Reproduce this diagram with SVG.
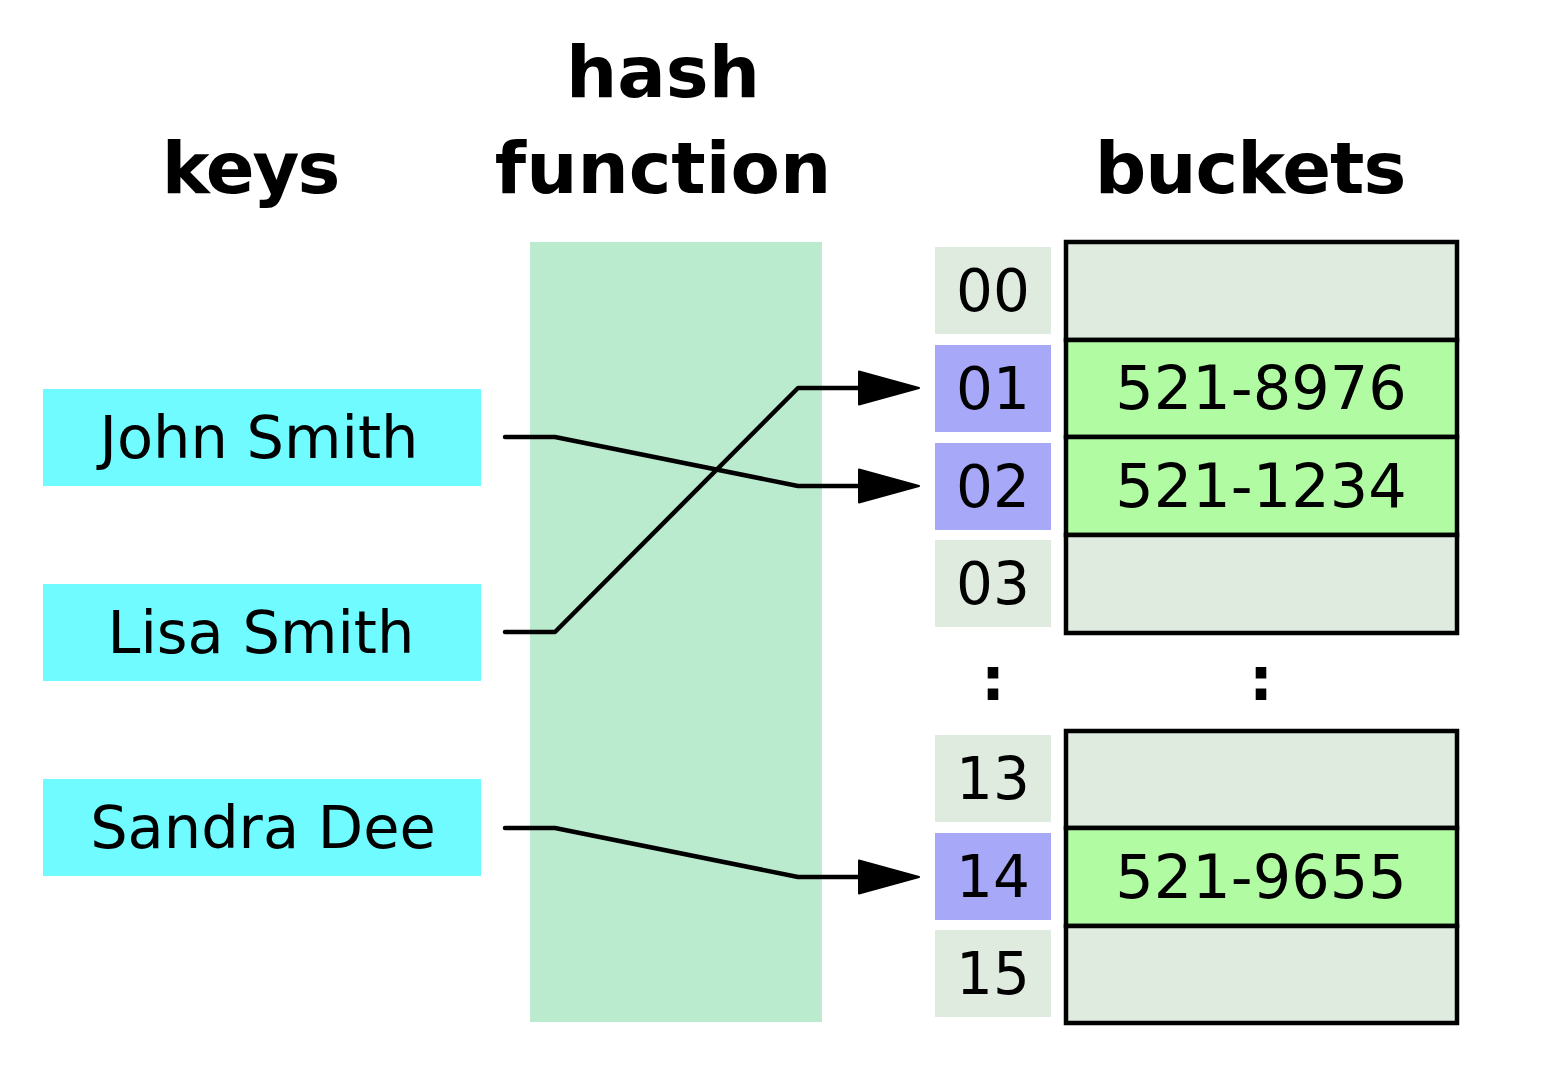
<svg xmlns="http://www.w3.org/2000/svg" width="1550" height="1066" viewBox="0 0 1550 1066">
<style>
.title{font-family:"DejaVu Sans",sans-serif;font-weight:bold;font-size:72px;text-anchor:middle;fill:#000}
.key rect{fill:#6ffbff}
.lbl{font-family:"DejaVu Sans",sans-serif;font-size:59px;text-anchor:middle;fill:#000}
.num{font-family:"DejaVu Sans",sans-serif;font-size:60.5px;text-anchor:middle;fill:#000}
.idx{font-family:"DejaVu Sans",sans-serif;font-size:58px;text-anchor:middle;fill:#000}
.empty{fill:#e0ebdf}
.hit{fill:#a8a8f8}
.full{fill:#b1fca3}
.cell{stroke:#000;stroke-width:4.5}
.conn{fill:none;stroke:#000;stroke-width:4.5;stroke-linecap:round;stroke-linejoin:round}
.dots{font-family:"DejaVu Sans",sans-serif;font-weight:bold;font-size:60px;text-anchor:middle;fill:#000}
</style>
<defs>
<marker id="ah" markerUnits="userSpaceOnUse" viewBox="0 0 62 36" markerWidth="62" markerHeight="36" refX="2" refY="18" orient="auto">
<path d="M1,1.5 L61,18 L1,34.5 z" fill="#000" stroke="#000" stroke-width="2" stroke-linejoin="round"/>
</marker>
</defs>
<rect width="1550" height="1066" fill="#fff"/>
<g id="titles">
<text class="title" x="250" y="193" letter-spacing="-2">keys</text>
<text class="title" x="663" y="97">hash</text>
<text class="title" x="663" y="193">function</text>
<text class="title" x="1250" y="193" letter-spacing="-1">buckets</text>
</g>
<g id="hash-function"><rect x="530" y="242" width="292" height="780" fill="#bbebcf"/></g>
<g id="key-john" class="key"><rect x="43" y="389" width="438" height="97"/><text class="lbl" x="259" y="458">John Smith</text></g>
<g id="key-lisa" class="key"><rect x="43" y="584" width="438" height="97"/><text class="lbl" x="261" y="653">Lisa Smith</text></g>
<g id="key-sandra" class="key"><rect x="43" y="779" width="438" height="97"/><text class="lbl" x="263" y="848">Sandra Dee</text></g>
<g id="index-00"><rect class="empty" x="935" y="247" width="116" height="87"/><text class="idx" x="993" y="311">00</text></g>
<g id="index-01"><rect class="hit" x="935" y="345" width="116" height="87"/><text class="idx" x="993" y="409">01</text></g>
<g id="index-02"><rect class="hit" x="935" y="443" width="116" height="87"/><text class="idx" x="993" y="507">02</text></g>
<g id="index-03"><rect class="empty" x="935" y="540" width="116" height="87"/><text class="idx" x="993" y="604">03</text></g>
<g id="index-13"><rect class="empty" x="935" y="735" width="116" height="87"/><text class="idx" x="993" y="799">13</text></g>
<g id="index-14"><rect class="hit" x="935" y="833" width="116" height="87"/><text class="idx" x="993" y="897">14</text></g>
<g id="index-15"><rect class="empty" x="935" y="930" width="116" height="87"/><text class="idx" x="993" y="994">15</text></g>
<g id="dots"><text class="dots" x="993" y="700">:</text><text class="dots" x="1261" y="700">:</text></g>
<g id="bucket-00"><rect class="empty cell" x="1066" y="242" width="391" height="98"/></g>
<g id="bucket-01"><rect class="full cell" x="1066" y="340" width="391" height="97"/><text class="num" x="1261" y="409">521-8976</text></g>
<g id="bucket-02"><rect class="full cell" x="1066" y="437" width="391" height="98"/><text class="num" x="1261" y="507">521-1234</text></g>
<g id="bucket-03"><rect class="empty cell" x="1066" y="535" width="391" height="98"/></g>
<g id="bucket-13"><rect class="empty cell" x="1066" y="731" width="391" height="97"/></g>
<g id="bucket-14"><rect class="full cell" x="1066" y="828" width="391" height="98"/><text class="num" x="1261" y="898">521-9655</text></g>
<g id="bucket-15"><rect class="empty cell" x="1066" y="926" width="391" height="97"/></g>
<g id="connectors">
<polyline class="conn" points="505,437 555,437 798,486 860,486" marker-end="url(#ah)"/>
<polyline class="conn" points="505,632 555,632 798,388 860,388" marker-end="url(#ah)"/>
<polyline class="conn" points="505,828 555,828 798,877 860,877" marker-end="url(#ah)"/>
</g>
</svg>
